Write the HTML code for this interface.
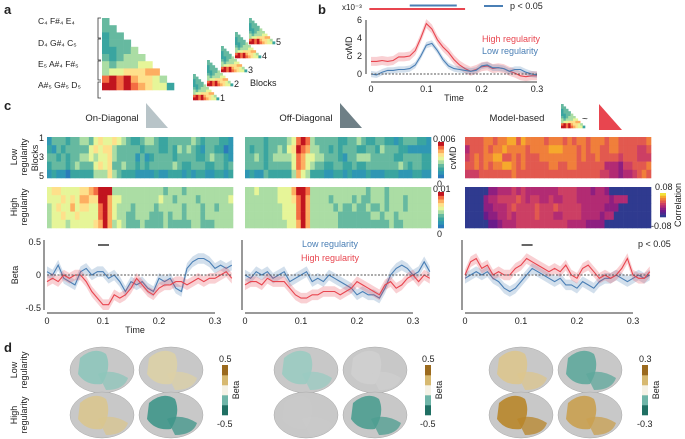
<!DOCTYPE html>
<html><head><meta charset="utf-8"><style>
body{margin:0;background:#fff;}
svg{display:block;font-family:"Liberation Sans",sans-serif;}
</style></head><body>
<svg id="fig" width="685" height="439" viewBox="0 0 685 439"></svg>
<script>
// ---------- data ----------
const bTime = [0,0.01,0.02,0.03,0.04,0.05,0.06,0.07,0.08,0.09,0.10,0.11,0.12,0.13,0.14,0.15,0.16,0.17,0.18,0.19,0.20,0.21,0.22,0.23,0.24,0.25,0.26,0.27,0.28,0.29,0.30];
const bHigh = [1.4,1.4,1.5,1.4,1.5,1.9,1.9,2.0,2.6,4.0,5.6,5.0,3.8,3.0,2.4,1.6,1.0,0.6,0.3,0.5,0.8,0.9,0.6,0.7,0.6,0.3,0.1,-0.2,-0.3,-0.2,-0.2];
const bLow  = [0,-0.1,0.2,0.4,0.4,0.5,0.5,0.6,1.0,2.0,3.2,3.4,2.6,1.6,0.9,0.6,0.5,0.4,0.3,0.4,0.9,1.0,0.7,0.7,0.6,0.3,0.5,0.5,0.2,0,-0.1];
const bYTicks = [0,2,4,6];
const xTicks = [0,0.1,0.2,0.3];
const betaTicks = [0.5,0,-0.5];
const onLow  = [0.05,0.0,0.15,-0.05,-0.1,-0.15,0.05,0.1,0.0,0.05,0.05,-0.05,0.0,-0.1,-0.25,-0.1,-0.15,-0.1,-0.2,-0.25,-0.05,-0.1,-0.05,-0.2,-0.25,0.1,0.2,0.25,0.25,0.2,0.1,0.15,0.1,0.15];
const onHigh = [-0.1,-0.05,-0.1,0.0,-0.05,0.0,0.0,-0.1,-0.25,-0.35,-0.45,-0.45,-0.3,-0.35,-0.3,-0.2,-0.05,-0.15,-0.25,-0.3,-0.2,-0.15,-0.15,-0.1,-0.1,-0.15,-0.1,-0.05,-0.1,-0.05,-0.05,0.0,0.05,-0.05];
const offLow = [0.0,-0.05,0.05,0.0,0.05,-0.05,0.0,0.05,-0.1,-0.05,0.0,0.05,-0.1,-0.05,-0.1,0.0,-0.05,-0.1,-0.15,-0.2,-0.3,-0.25,-0.3,-0.3,-0.35,-0.2,0.0,0.1,0.15,0.1,0.0,0.05,0.2,0.05];
const offHigh= [-0.15,-0.1,-0.1,-0.15,-0.05,-0.1,-0.1,-0.1,-0.2,-0.3,-0.35,-0.35,-0.3,-0.3,-0.25,-0.25,-0.25,-0.3,-0.25,-0.2,-0.1,-0.15,-0.2,-0.25,-0.3,-0.15,-0.1,-0.2,-0.15,-0.05,0.0,-0.1,0.0,-0.05];
const modLow = [-0.05,0.0,0.05,0.0,0.05,-0.05,-0.1,-0.2,-0.25,-0.2,-0.1,0.0,0.1,0.05,0.0,-0.05,-0.1,-0.05,-0.15,-0.15,-0.2,-0.1,-0.15,-0.2,-0.1,-0.05,-0.05,0.0,-0.05,-0.1,-0.05,0.0,-0.05,0.0];
const modHigh= [0.0,0.2,0.25,0.1,0.15,0.0,0.05,0.0,0.0,0.1,0.15,0.25,0.2,0.15,0.1,0.05,0.1,0.05,0.15,0.0,-0.05,0.1,0.15,0.05,-0.05,0.0,-0.05,0.0,0.1,0.25,0.0,-0.05,-0.05,0.05];
const hmLowOn = ["1333233443565565432234432233333432333221","2132333335656643333323332232434321332201","3323233445455643333131233332333322343321","2333234333565633433232333334322333223323","1211022222444643222111121122212122112212"];
const hmLowOff= ["3333233334589843333322334322332212333221","3233233435698744332323332233243332211111","3343234444587554433321334443333322333322","3333233333587543322332232233333334323322","1211322222475422211221211121112221112211"];
const hmHighOn= ["5665555667899944444444444344434444444444","5556565776699755444444445443444434444445","4565575665589754443444434444434443443444","4556556555589754433444333434434443444444","4555455555679745433343333433333443334444"];
const hmHighOff=["4454444555799844444444444434443444444444","4444444555689744443444434334443444344444","4444444455589744444343343343343444344444","4444444455589744444433333334434434444444","4444444445579744444433333333333433444444"];
const hmModLow= ["6666776778868777767776767767776776666667","4666767787777677778887776767766776666556","5676778866767666777777776766766665666555","6676767788767666667766776666664443556667","5556666666766666666666666666655443445676"];
const hmModHigh=["0000033444545444444455554443443000000000","0000344555565455445445554444444344400000","0000334445655556555655555444443330000000","0000233445455556555445555444434400000000","0000022344455555555555444433330000000000"];
const matRows = ["3","33","233","2333","22334","323444","4344455","45566677","898976654","9989876552"];

const spectral=["#2b7bba","#2f97b4","#3aa5a0","#66b9a0","#abdda4","#e6f598","#fee08b","#fdae61","#f46d43","#c1141f"];
const plasma=["#2f3a8f","#4b2a8e","#6a1b8a","#8e1f80","#b22b73","#cc3f64","#e2594f","#f07f3b","#f6a92c","#f2e33a"];
const RED="#e8454f", BLUE="#4a7fb5";
const svg=document.getElementById('fig');
const NS="http://www.w3.org/2000/svg";
function E(tag,a,p){const e=document.createElementNS(NS,tag);for(const k in a)e.setAttribute(k,a[k]);(p||svg).appendChild(e);return e;}
function T(x,y,s,size,extra){const e=E('text',Object.assign({x:x,y:y,'font-size':size||9,fill:'#222'},extra||{}));e.textContent=s;return e;}

// panel letters
[["a",4,14],["b",318,14],["c",4,110],["d",4,352]].forEach(p=>{const t=T(p[1],p[2],p[0],13,{'font-weight':'bold'});

});

// ---------- panel a ----------
const notes=[["C₄  F#₄  E₄",24],["D₄  G#₄  C₅",46],["E₅  A#₄  F#₅",67],["A#₅ G#₅  D₅",88]];
notes.forEach(n=>{const t=T(38,n[1],n[0],8.5);

});
[[18,38],[39,60],[61,80],[82,98]].forEach(b=>{const p=E('path',{d:`M101 ${b[0]} h-3 v${b[1]-b[0]} h3`,fill:'none',stroke:'#333','stroke-width':0.8});

});
function tri(x0,y0,cs,colorsRows,name){const g=E('g',{});


colorsRows.forEach((row,i)=>{for(let j=0;j<row.length;j++){const c=E('rect',{x:x0+j*cs,y:y0+i*cs,width:cs+0.3,height:cs+0.3,fill:spectral[+row[j]]},g);

}});}
tri(102,18,7.2,matRows,'rdm-matrix');
for(let b=0;b<5;b++){tri(193+b*14,74-b*14,2.6,matRows,'block-rdm-'+(b+1));
const t=T(220+b*14,101-b*14,String(b+1),9);

}
const bl=T(250,86,"Blocks",9);



// ---------- panel b ----------
const bx=t=>371+t/0.3*166, by=v=>74-v/6*54;
function band(xs,ys,xf,yf,w,col,name){let up=xs.map((t,i)=>xf(t)+','+yf(ys[i]+w)).join(' ');let dn=xs.map((t,i)=>xf(t)+','+yf(ys[i]-w)).reverse().join(' ');
const p=E('polygon',{points:up+' '+dn,fill:col,opacity:0.25});


const l=E('polyline',{points:xs.map((t,i)=>xf(t)+','+yf(ys[i])).join(' '),fill:'none',stroke:col,'stroke-width':1.1});

}
band(bTime,bHigh,bx,by,0.5,RED,'b-high');
band(bTime,bLow,bx,by,0.35,BLUE,'b-low');
const z=E('line',{x1:371,x2:537,y1:by(0),y2:by(0),stroke:'#555','stroke-dasharray':'2,1.5'});


const bya=E('line',{x1:366,x2:366,y1:by(6),y2:by(0),stroke:'#333'});


bYTicks.forEach(v=>{const t=T(362,by(v)+3,String(v),9,{'text-anchor':'end'});

});
const bxa=E('line',{x1:371,x2:537,y1:82,y2:82,stroke:'#333'});


xTicks.forEach(v=>{const t=T(bx(v),92,String(v),9,{'text-anchor':'middle'});

});
const bt=T(454,101,"Time",9,{'text-anchor':'middle'});


const byt=T(0,0,"cvMD",9,{transform:'translate(352,48) rotate(-90)','text-anchor':'middle'});


const sc=T(342,10,"x10⁻³",8);


const s1=E('line',{x1:bx(-0.003),x2:bx(0.17),y1:9,y2:9,stroke:RED,'stroke-width':2});


const s2=E('line',{x1:bx(0.07),x2:bx(0.155),y1:5.5,y2:5.5,stroke:BLUE,'stroke-width':2});


const s3=E('line',{x1:484,x2:503,y1:6,y2:6,stroke:BLUE,'stroke-width':2});


const s4=T(510,9,"p < 0.05",9);


const lh=T(482,42,"High regularity",9,{fill:RED});


const ll=T(482,54,"Low regularity",9,{fill:BLUE});



// ---------- panel c heatmaps ----------
function heat(x0,y0,w,h,rows,cmap,name){const g=E('g',{});


const cw=w/rows[0].length, ch=h/rows.length;
rows.forEach((r,i)=>{for(let j=0;j<r.length;j++){const c=E('rect',{x:x0+j*cw,y:y0+i*ch,width:cw+0.3,height:ch+0.3,fill:cmap[+r[j]]},g);

}});}
const cols=[47,245,465], HW=186;
heat(47,137,HW,41,hmLowOn,spectral,'heatmap-low-on');
heat(245,137,HW,41,hmLowOff,spectral,'heatmap-low-off');
heat(465,137,HW,41,hmModLow,plasma,'heatmap-low-model');
heat(47,187,HW,41,hmHighOn,spectral,'heatmap-high-on');
heat(245,187,HW,41,hmHighOff,spectral,'heatmap-high-off');
heat(465,187,HW,41,hmModHigh,plasma,'heatmap-high-model');
[["On-Diagonal",112],["Off-Diagonal",306],["Model-based",517]].forEach(t=>{const e=T(t[1],121,t[0],9.5,{'text-anchor':'middle'});

});
// small icons
const ic1=E('polygon',{points:'146,103 168,128 146,128',fill:'#b8c4c8'});


const ic2=E('polygon',{points:'340,103 362,128 340,128',fill:'#6e7f86'});


tri(561,104,2.4,matRows,'model-icon-data');
const tl=T(582,122,"~",10);


const ic3=E('polygon',{points:'599,104 622,130 599,130',fill:'#e8454f'});


// colorbars
function cbar(x,y,h,cmap,name){const g=E('g',{});


for(let i=0;i<10;i++){const r=E('rect',{x:x,y:y+h-(i+1)*h/10,width:6,height:h/10+0.3,fill:cmap[i]},g);

}}
cbar(438,142,36,spectral,'cvmd-colorbar-low');
cbar(438,192,36,spectral,'cvmd-colorbar-high');
cbar(660,193,24,plasma,'correlation-colorbar');
[["0.006",433,142],["0",437,187],["0.01",433,192],["0",437,237],["0.08",655,190],["-0.08",651,229]].forEach(t=>{const e=T(t[1],t[2],t[0],9);

});
const cv=T(0,0,"cvMD",9,{transform:'translate(456,158) rotate(-90)','text-anchor':'middle'});


const co=T(0,0,"Correlation",9,{transform:'translate(681,205) rotate(-90)','text-anchor':'middle'});


[["Low",17,157],["regularity",27,157],["High",17,207],["regularity",27,207]].forEach(t=>{const e=T(0,0,t[0],9,{transform:`translate(${t[1]},${t[2]}) rotate(-90)`,'text-anchor':'middle'});

});
const blk=T(0,0,"Blocks",9,{transform:'translate(38,158) rotate(-90)','text-anchor':'middle'});


[["1",141],["3",160],["5",179]].forEach(t=>{const e=T(44,t[1],t[0],9,{'text-anchor':'end'});

});

// ---------- beta line plots ----------
const betaT=onLow.map((_,i)=>i*0.01);
const yB=v=>275-v*66;
const series=[[onLow,onHigh],[offLow,offHigh],[modLow,modHigh]];
series.forEach((s,k)=>{const x0=cols[k];const xf=t=>x0+t/0.3*168;
band(betaT,s[0],xf,yB,0.08,BLUE,'beta-low-'+k);
band(betaT,s[1],xf,yB,0.08,RED,'beta-high-'+k);
const z=E('line',{x1:x0,x2:xf(0.33),y1:yB(0),y2:yB(0),stroke:'#555','stroke-dasharray':'2,1.5'});


const ya=E('line',{x1:x0-3,x2:x0-3,y1:240,y2:310,stroke:'#333'});


const xa=E('line',{x1:x0,x2:xf(0.3),y1:313,y2:313,stroke:'#333'});


xTicks.forEach(v=>{const t=T(xf(v),324,String(v),9,{'text-anchor':'middle'});

});});
betaTicks.forEach(v=>{const t=T(41,yB(v)+3,String(v),9,{'text-anchor':'end'});

});
const bty=T(0,0,"Beta",9,{transform:'translate(18,275) rotate(-90)','text-anchor':'middle'});


const btx=T(135,333,"Time",9,{'text-anchor':'middle'});


[[47+0.1/0.3*168],[465+0.11/0.3*168]].forEach(p=>{const l=E('line',{x1:p[0]-5,x2:p[0]+6,y1:245,y2:245,stroke:'#666','stroke-width':2});

});
const cl=T(330,247,"Low regularity",9,{fill:BLUE,'text-anchor':'middle'});


const ch2=T(330,261,"High regularity",9,{fill:RED,'text-anchor':'middle'});


const cp=T(638,247,"p < 0.05",9);



// ---------- panel d brains ----------
const brainPos=[[102,370],[171,370],[306,370],[375,370],[521,370],[590,370],[102,415],[171,415],[306,415],[375,415],[521,415],[590,415]];
const brainTint=["#8ec5bb","#dcd0a6","#9acbc1","#cfcfcf","#dcc58e","#5fa89c","#d9c58f","#3f968a","#c9c9c9","#4d9d90","#b8862a","#c9a050"];
brainPos.forEach((p,i)=>{const g=E('g',{});


const e=E('ellipse',{cx:p[0],cy:p[1],rx:32,ry:23,fill:'#c8c8c8',stroke:'#aaa','stroke-width':0.5},g);


const q=E('path',{d:`M${p[0]-22} ${p[1]-12} q14 -12 26 -4 q6 14 -4 30 q-16 2 -24 -10 z`,fill:brainTint[i],opacity:0.9},g);


const q2=E('path',{d:`M${p[0]-4} ${p[1]+4} q14 -6 30 4 q-4 12 -22 12 z`,fill:brainTint[i],opacity:0.75},g);

});
const divC=["#1f6f63","#6fb5a8","#f5f2e6","#d7b970","#9b6a1e"];
[[222,"0.5","-0.5"],[425,"0.5","-0.5"],[642,"0.3","-0.3"]].forEach(c=>{for(let i=0;i<5;i++){const r=E('rect',{x:c[0],y:415-(i+1)*10,width:6,height:10.3,fill:divC[i]});

}
const a=T(c[0]-3,362,c[1],9);


const b=T(c[0]-5,427,c[2],9);


const l=T(0,0,"Beta",9,{transform:`translate(${c[0]+17},390) rotate(-90)`,'text-anchor':'middle'});

});
[["Low",17,370],["regularity",27,370],["High",17,415],["regularity",27,415]].forEach(t=>{const e=T(0,0,t[0],9,{transform:`translate(${t[1]},${t[2]}) rotate(-90)`,'text-anchor':'middle'});

});
</script>
</body></html>
